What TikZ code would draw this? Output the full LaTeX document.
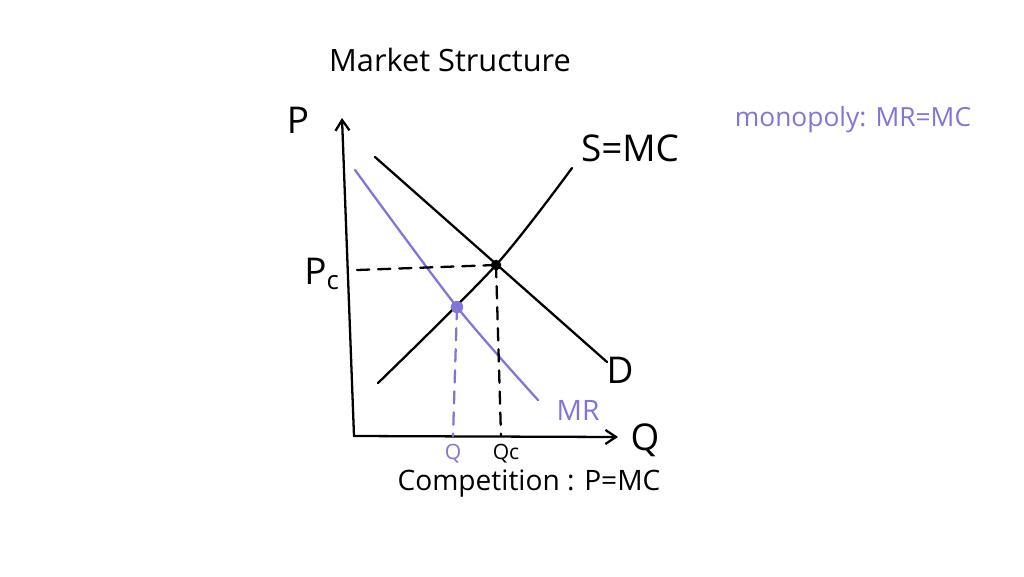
\documentclass[tikz,border=0pt]{standalone}
\usepackage{fontspec}
\setmainfont{Open Sans}
\usetikzlibrary{arrows.meta}
\definecolor{mrc}{RGB}{128,118,218}
\tikzstyle{curve} = [
  line width=1.3pt,
  line cap=round,
]
\tikzstyle{guide} = [
  curve,
  dash pattern=on 7pt off 5pt,
]
\tikzstyle{biglbl} = [font=\fontsize{21}{25}\selectfont]
\tikzstyle{midlbl} = [font=\fontsize{16}{19}\selectfont]
\tikzstyle{smalllbl} = [font=\fontsize{12}{14}\selectfont]

\begin{document}
\begin{tikzpicture}[
    x=0.02cm,
    y=-0.02cm,
    >={Straight Barb[length=6pt,width=8pt]}
  ]
    \useasboundingbox (0,0) rectangle (1024,576);

    \coordinate (O) at (354,436);
    \coordinate (ytop) at (342,118);
    \coordinate (xend) at (618,437);
    \coordinate (E) at (496,265);
    \coordinate (M) at (457,307);

    % Axes
    \draw[curve,->] (O) -- (ytop);
    \draw[curve,->] (O) -- (xend);

    % Demand and supply
    \coordinate (D0) at (375,157);
    \coordinate (D1) at (607,362);
    \coordinate (S0) at (378,383);
    \coordinate (S1) at (572,168);
    \draw[curve] (D0) -- (D1);
    \draw[curve] plot[smooth] coordinates {(S0) (E) (S1)};

    % Marginal revenue
    \coordinate (MR0) at (355,170);
    \coordinate (MR1) at (538,400);
    \draw[curve,mrc] plot[smooth] coordinates {(MR0) (M) (MR1)};

    % Guides
    \coordinate (Pc) at (357,270);
    \coordinate (Qc) at (501,436);
    \coordinate (Qm) at (453,436);
    \draw[guide] (Pc) -- (E);
    \draw[guide] (E) -- (Qc);
    \draw[guide,mrc] (M) -- (Qm);
    \fill (E) circle (3pt);
    \fill[mrc] (M) circle (3.5pt);

    % Labels
    \node[midlbl,font=\fontsize{17.5}{21}\selectfont] (title) at (450,60) {Market Structure};
    \node[midlbl,font=\fontsize{15}{18}\selectfont,mrc] (mono) at (853,120) {monopoly: MR=MC};
    \node[midlbl] (comp) at (529,484) {Competition : P=MC};
    \node[biglbl] (plbl) at (298,120) {P};
    \node[biglbl] (qlbl) at (645,440) {Q};
    \node[biglbl] (pclbl) at (322,274) {P\textsubscript{c}};
    \node[smalllbl] (qclbl) at (506,454) {Qc};
    \node[smalllbl,mrc] (qmlbl) at (453,454) {Q};
    \node[biglbl] (slbl) at (630,148) {S=MC};
    \node[biglbl] (dlbl) at (620,370) {D};
    \node[midlbl,mrc] (mrlbl) at (578,410) {MR};
  \end{tikzpicture}
\end{document}
